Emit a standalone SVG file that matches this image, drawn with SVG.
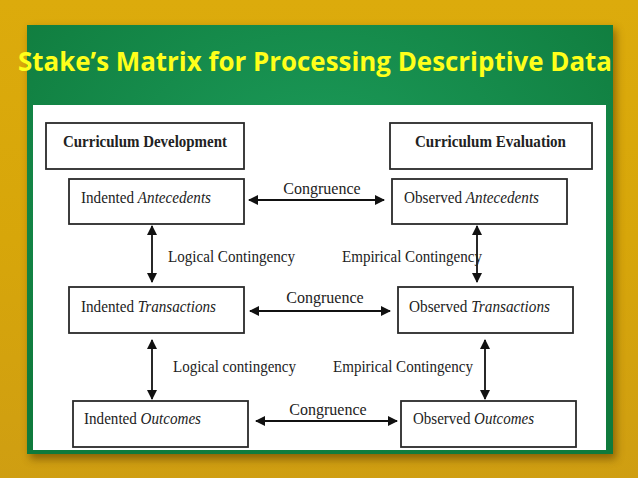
<svg xmlns="http://www.w3.org/2000/svg" width="638" height="478" viewBox="0 0 638 478">
<defs>
<linearGradient id="bg" x1="0" y1="0" x2="0" y2="1">
<stop offset="0" stop-color="#dcab0c"/>
<stop offset="0.5" stop-color="#d7a60a"/>
<stop offset="1" stop-color="#cf9e12"/>
</linearGradient>
<radialGradient id="board" cx="0.5" cy="0.35" r="0.7">
<stop offset="0" stop-color="#1c9c5a"/>
<stop offset="1" stop-color="#0f7a3c"/>
</radialGradient>
<filter id="sh" x="-5%" y="-5%" width="115%" height="115%">
<feGaussianBlur stdDeviation="4"/>
</filter>
<marker id="ah" viewBox="0 0 10 10" refX="9" refY="5" markerWidth="10" markerHeight="10" markerUnits="userSpaceOnUse" orient="auto-start-reverse">
<path d="M0,0 L10,5 L0,10 z" fill="#111"/>
</marker>
<style>
.box{fill:#fff;stroke:#2a2a2a;stroke-width:1.8}
.t{font-family:"Liberation Serif","Times New Roman",serif;font-size:16.5px;fill:#222}
.b{font-weight:bold}
.i{font-style:italic}
.c{stroke:#111;stroke-width:1.8;fill:none;marker-start:url(#ah);marker-end:url(#ah)}
.lab{font-family:"Liberation Serif","Times New Roman",serif;font-size:16px;fill:#222}
</style>
</defs>
<rect x="0" y="0" width="638" height="478" fill="url(#bg)"/>
<rect x="30" y="29" width="586" height="430" fill="#5a3a00" opacity="0.6" filter="url(#sh)"/>
<rect x="27" y="25" width="586" height="429" fill="url(#board)"/>
<rect x="33" y="105" width="573" height="345" fill="#fff"/>
<text x="315" y="71" text-anchor="middle" font-family="'Open Sans','Noto Sans',sans-serif" font-weight="bold" font-size="27" fill="#ffff1a" textLength="594" lengthAdjust="spacingAndGlyphs">Stake’s Matrix for Processing Descriptive Data</text>

<g id="cd"><rect class="box" x="46" y="123" width="198" height="46"/><text class="t b" x="63" y="147" textLength="164" lengthAdjust="spacingAndGlyphs">Curriculum Development</text></g>
<g id="ce"><rect class="box" x="390" y="123" width="202" height="46"/><text class="t b" x="415" y="147" textLength="151" lengthAdjust="spacingAndGlyphs">Curriculum Evaluation</text></g>
<g id="ia"><rect class="box" x="69" y="179" width="175" height="45"/><text class="t" x="81" y="203" textLength="130" lengthAdjust="spacingAndGlyphs">Indented <tspan class="i">Antecedents</tspan></text></g>
<g id="oa"><rect class="box" x="392" y="179" width="175" height="45"/><text class="t" x="404" y="203" textLength="135" lengthAdjust="spacingAndGlyphs">Observed <tspan class="i">Antecedents</tspan></text></g>
<g id="it"><rect class="box" x="69" y="287" width="175" height="46"/><text class="t" x="81" y="312" textLength="135" lengthAdjust="spacingAndGlyphs">Indented <tspan class="i">Transactions</tspan></text></g>
<g id="ot"><rect class="box" x="398" y="287" width="175" height="46"/><text class="t" x="409" y="312" textLength="141" lengthAdjust="spacingAndGlyphs">Observed <tspan class="i">Transactions</tspan></text></g>
<g id="io"><rect class="box" x="73" y="401" width="175" height="46"/><text class="t" x="84" y="424" textLength="117" lengthAdjust="spacingAndGlyphs">Indented <tspan class="i">Outcomes</tspan></text></g>
<g id="oo"><rect class="box" x="401" y="401" width="175" height="46"/><text class="t" x="413" y="424" textLength="121" lengthAdjust="spacingAndGlyphs">Observed <tspan class="i">Outcomes</tspan></text></g>

<g id="connectors">
<line class="c" x1="249" y1="200" x2="384" y2="200"/>
<line class="c" x1="250" y1="311" x2="390" y2="311"/>
<line class="c" x1="256" y1="421" x2="397" y2="421"/>
<line class="c" x1="152" y1="226" x2="152" y2="282"/>
<line class="c" x1="152" y1="340" x2="152" y2="399"/>
<line class="c" x1="477" y1="226" x2="477" y2="282"/>
<line class="c" x1="485" y1="340" x2="485" y2="399"/>
<text class="lab" x="322" y="194" text-anchor="middle">Congruence</text>
<text class="lab" x="325" y="303" text-anchor="middle">Congruence</text>
<text class="lab" x="328" y="415" text-anchor="middle">Congruence</text>
<text class="lab" x="168" y="262" textLength="127" lengthAdjust="spacingAndGlyphs">Logical Contingency</text>
<text class="lab" x="342" y="262" textLength="140" lengthAdjust="spacingAndGlyphs">Empirical Contingency</text>
<text class="lab" x="173" y="372" textLength="123" lengthAdjust="spacingAndGlyphs">Logical contingency</text>
<text class="lab" x="333" y="372" textLength="140" lengthAdjust="spacingAndGlyphs">Empirical Contingency</text>
</g>
</svg>
